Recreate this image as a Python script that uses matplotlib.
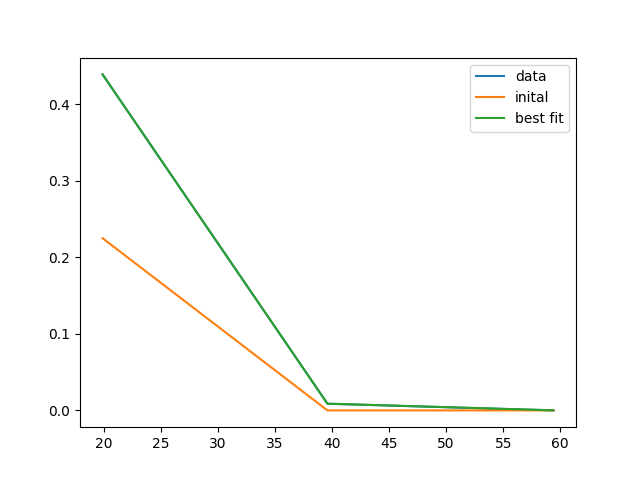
import matplotlib
matplotlib.use('Agg')
import matplotlib.pyplot as plt

x = [19.9, 39.6, 59.4]
data = [0.439, 0.0087, 0.0]
init = [0.225, 0.0, 0.0]
best = [0.439, 0.0088, 0.0001]

fig, ax = plt.subplots(figsize=(6.4, 4.8), dpi=100)
ax.plot(x, data, label='data')
ax.plot(x, init, label='inital')
ax.plot(x, best, label='best fit')
ax.legend()
fig.savefig('out.png')
